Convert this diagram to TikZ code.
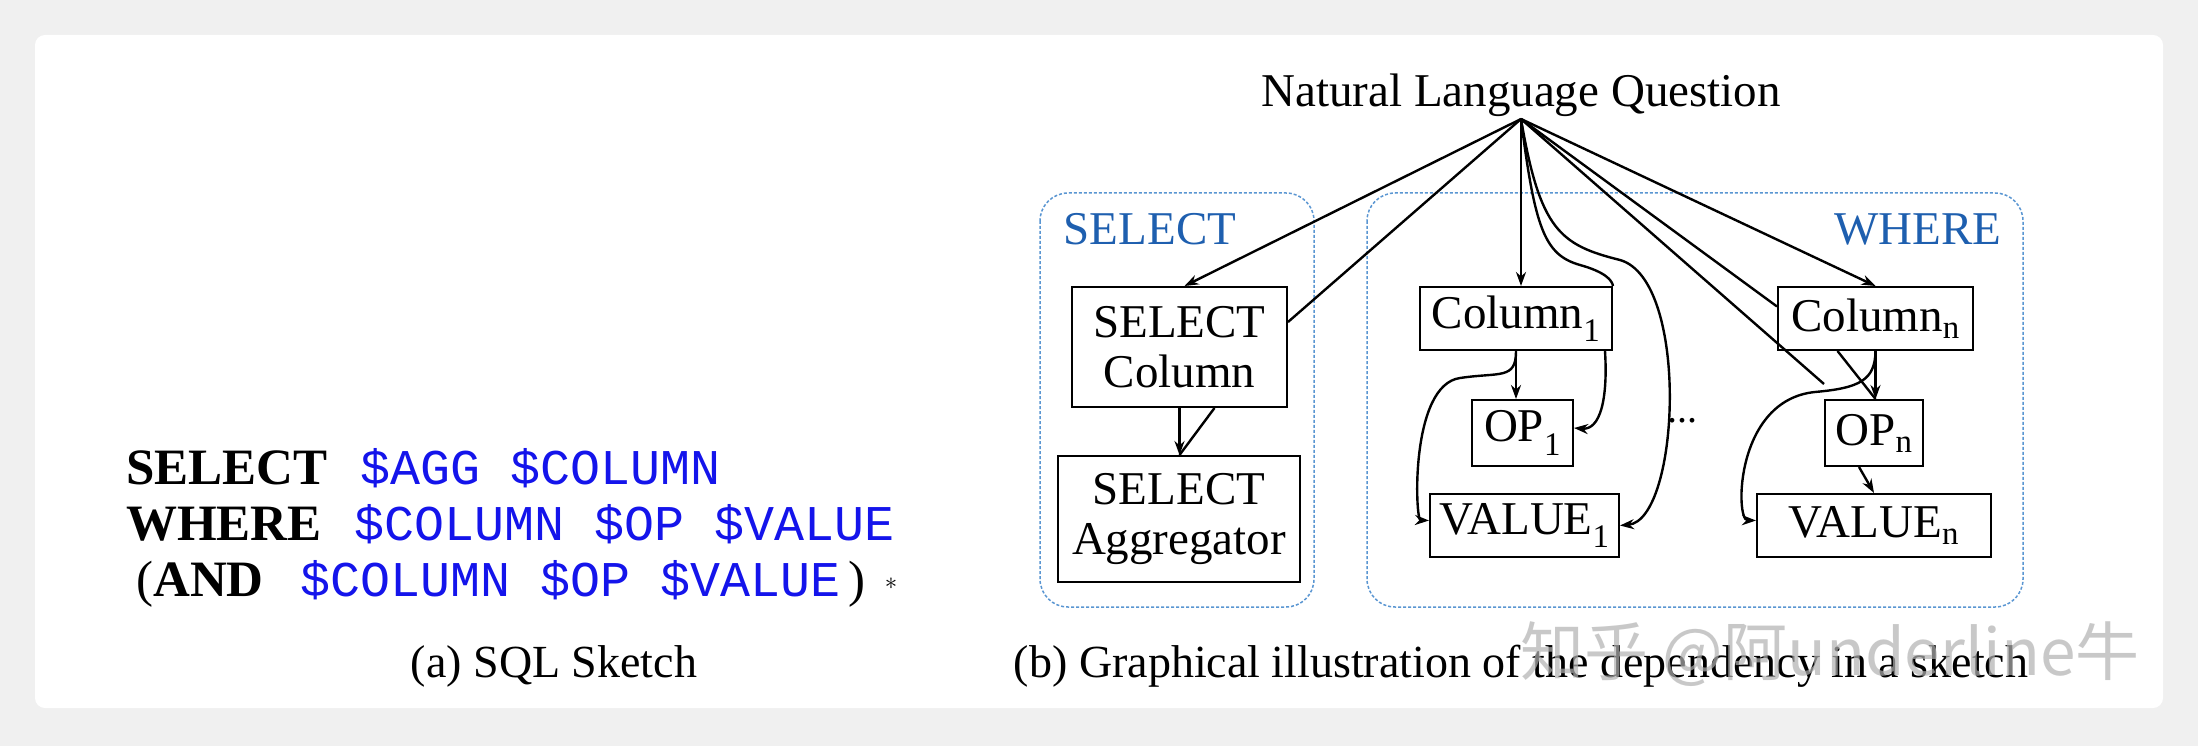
\documentclass[tikz,border=0pt]{standalone}
\usepackage{fontspec}
\setmainfont{Liberation Serif}
\setmonofont{Liberation Mono}
\newfontfamily\cjk{Noto Sans CJK SC}
\usetikzlibrary{arrows.meta}
\definecolor{bluelab}{RGB}{30,95,175}
\definecolor{codeblue}{RGB}{20,20,235}
\definecolor{dashblue}{RGB}{90,150,210}
\begin{document}
\begin{tikzpicture}[x=1pt,y=-1pt,
  box/.style={draw,line width=2pt,fill=white,inner sep=0pt,align=center,font=\fontsize{47}{50}\selectfont},
  grp/.style={draw=dashblue,line width=1.5pt,dash pattern=on 3pt off 2pt,rounded corners=28pt},
  arr/.style={line width=2.4pt,-{Stealth[length=14pt,width=10pt]}},
  ln/.style={line width=2.4pt},
  lab/.style={text=bluelab,font=\fontsize{47}{50}\selectfont},
  code/.style={anchor=base west,font=\fontsize{50}{54}\selectfont\ttfamily,text=codeblue,inner sep=0pt},
  kw/.style={anchor=base west,font=\fontsize{51}{54}\selectfont\bfseries,inner sep=0pt}]
\fill[black!6] (0,0) rectangle (2198,746);
\fill[white] [rounded corners=10pt] (35,35) rectangle (2163,708);
\useasboundingbox (0,0) rectangle (2198,746);
% groups
\draw[grp] (1040,193) rectangle (1314,607);
\draw[grp] (1367,193) rectangle (2023,607);
\node[lab] (ls) at (1150,229) {SELECT};
\node[lab] (lw) at (1918,229) {WHERE};
% nodes
\node[font=\fontsize{47}{50}\selectfont] (nlq) at (1521,95) {Natural Language Question};
\coordinate (src) at (1521,119);
\node[box,minimum width=215pt,minimum height=120pt] (sc) at (1179.5,347) {SELECT\\Column};
\node[box,minimum width=242pt,minimum height=126pt] (sa) at (1179,519) {SELECT\\Aggregator};
\node[box,minimum width=192pt,minimum height=63pt] (c1) at (1516,318.5) {Column$_{\mathrm{1}}$};
\node[box,minimum width=101pt,minimum height=66pt] (o1) at (1522.5,433) {OP$_{\mathrm{1}}$};
\node[box,minimum width=189pt,minimum height=63pt] (v1) at (1524.5,525.5) {VALUE$_{\mathrm{1}}$};
\node[box,minimum width=195pt,minimum height=63pt] (cn) at (1875.5,318.5) {Column$_{\mathrm{n}}$};
\node[box,minimum width=98pt,minimum height=66pt] (on) at (1874,433) {OP$_{\mathrm{n}}$};
\node[box,minimum width=234pt,minimum height=63pt] (vn) at (1874,525.5) {VALUE$_{\mathrm{n}}$};
\node[font=\fontsize{40}{44}\selectfont] (dots) at (1682,421) {...};
% edges from question
\draw[arr] (src) -- ([xshift=5pt]sc.north);
\draw[ln] (src) -- ([yshift=25pt]sc.east);
\draw[arr] (src) -- (src|-c1.north);
\draw[ln] (src) .. controls (1535,230) and (1545,255) .. (1580,265) .. controls (1605,272) and (1612,280) .. (c1.north east);
\draw[arr] (src) .. controls (1540,230) and (1560,245) .. (1620,260) .. controls (1690,280) and (1680,520) .. (v1.east);
\draw[ln] (src) -- ([yshift=15pt]on.north west);
\draw[ln] (src) -- ([yshift=12pt]cn.west);
\draw[arr] (src) -- (cn.north);
% SELECT internal
\draw[arr] (sc.south) -- (sc.south|-sa.north);
\draw[ln] ([xshift=35pt]sc.south) -- (sc.south|-sa.north);
% column1
\draw[arr] (c1.south) -- (c1.south|-o1.north);
\draw[arr] (c1.south) .. controls (1516,380) and (1500,372) .. (1460,378) .. controls (1410,385) and (1415,520) .. ([yshift=5pt]v1.west);
\draw[arr] ([xshift=-8pt]c1.south east) .. controls (1608,400) and (1600,430) .. ([yshift=5pt]o1.east);
% column n
\draw[arr] (cn.south) -- (cn.south|-on.north);
\draw[ln] ([xshift=-38pt]cn.south) -- (cn.south|-on.north);
\draw[arr] (cn.south) .. controls (1875,380) and (1860,388) .. (1815,392) .. controls (1735,400) and (1735,520) .. ([yshift=5pt]vn.west);
\draw[arr] ([xshift=-15pt]on.south) -- (vn.north);
% SQL sketch
\node[kw] (s1) at (126,484) {SELECT};
\node[code] (s1b) at (360,484) {\$AGG \$COLUMN};
\node[kw] (s2) at (126,540) {WHERE};
\node[code] (s2b) at (354,540) {\$COLUMN \$OP \$VALUE};
\node[anchor=base west,font=\fontsize{51}{54}\selectfont,inner sep=0pt] (s3) at (136,596) {(\textbf{AND}};
\node[code] (s3b) at (300,596) {\$COLUMN \$OP \$VALUE};
\node[anchor=base west,font=\fontsize{51}{54}\selectfont,inner sep=0pt] (s3c) at (848,596) {)};
\node[font=\fontsize{56}{56}\selectfont,inner sep=0pt] (star) at (891,584) {$\ast$};
% captions
\node[font=\fontsize{46}{50}\selectfont] (capa) at (554,666) {(a) SQL Sketch};
\node[font=\fontsize{46}{50}\selectfont] (capb) at (1521,666) {(b) Graphical illustration of the dependency in a sketch};
\node[font=\fontsize{64}{68}\cjk,text=black!30,opacity=0.7] (wm) at (1830,654) {知乎 @阿underline牛};
\end{tikzpicture}
\end{document}
